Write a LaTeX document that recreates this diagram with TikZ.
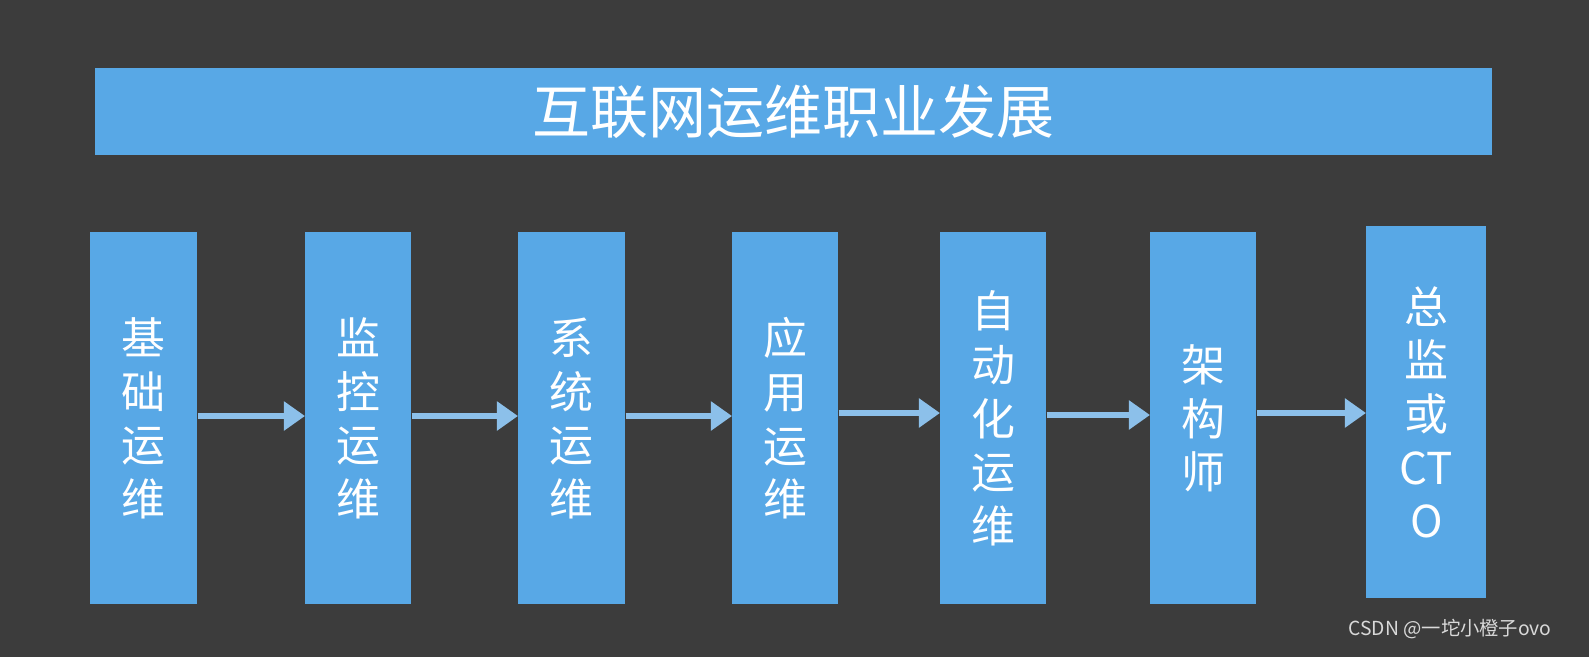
\documentclass[tikz,border=0pt]{standalone}
\usepackage{fontspec}
\newfontfamily\cjk{Noto Sans CJK SC}
\usetikzlibrary{arrows.meta}
\definecolor{bg}{HTML}{3C3C3C}
\definecolor{bar}{HTML}{58A8E6}
\definecolor{arr}{HTML}{8CC0EA}
\tikzset{
 stage/.style={fill=bar,draw=none,inner sep=0pt,anchor=north west,text=white,font=\cjk\fontsize{25}{30.5}\selectfont,align=center},
 link/.style={draw=arr,line width=3.2pt,-{Triangle[length=12pt,width=16pt]}},
}
\begin{document}
\begin{tikzpicture}[x=0.02cm,y=-0.02cm]
\fill[bg] (0,0) rectangle (1589,657);
\node[fill=bar,minimum width=1397*0.02cm,minimum height=87*0.02cm,anchor=north west,inner sep=0pt,text=white,font=\cjk\fontsize{33}{38}\selectfont] (title) at (95,68) {互联网运维职业发展};
\node[stage,minimum width=107*0.02cm,minimum height=372*0.02cm] (b1) at (90,232) {基\\础\\运\\维};
\node[stage,minimum width=106*0.02cm,minimum height=372*0.02cm] (b2) at (305,232) {监\\控\\运\\维};
\node[stage,minimum width=107*0.02cm,minimum height=372*0.02cm] (b3) at (518,232) {系\\统\\运\\维};
\node[stage,minimum width=106*0.02cm,minimum height=372*0.02cm] (b4) at (732,232) {应\\用\\运\\维};
\node[stage,minimum width=106*0.02cm,minimum height=372*0.02cm] (b5) at (940,232) {自\\动\\化\\运\\维};
\node[stage,minimum width=106*0.02cm,minimum height=372*0.02cm] (b6) at (1150,232) {架\\构\\师};
\node[stage,minimum width=120*0.02cm,minimum height=372*0.02cm] (b7) at (1366,226) {总\\监\\或\\CT\\O};
\draw[link] (b1.east |- 0,416) -- (b2.west |- 0,416);
\draw[link] (b2.east |- 0,416) -- (b3.west |- 0,416);
\draw[link] (b3.east |- 0,416) -- (b4.west |- 0,416);
\draw[link] (b4.east |- 0,413) -- (b5.west |- 0,413);
\draw[link] (b5.east |- 0,415) -- (b6.west |- 0,415);
\draw[link] (b6.east |- 0,413) -- (b7.west |- 0,413);
\node[anchor=east,text=white!85!black,font=\cjk\fontsize{11}{13}\selectfont,inner sep=0pt] (wm) at (1552,629) {CSDN @一坨小橙子ovo};
\pgfresetboundingbox
\useasboundingbox (0,0) rectangle (1589,657);
\end{tikzpicture}
\end{document}
